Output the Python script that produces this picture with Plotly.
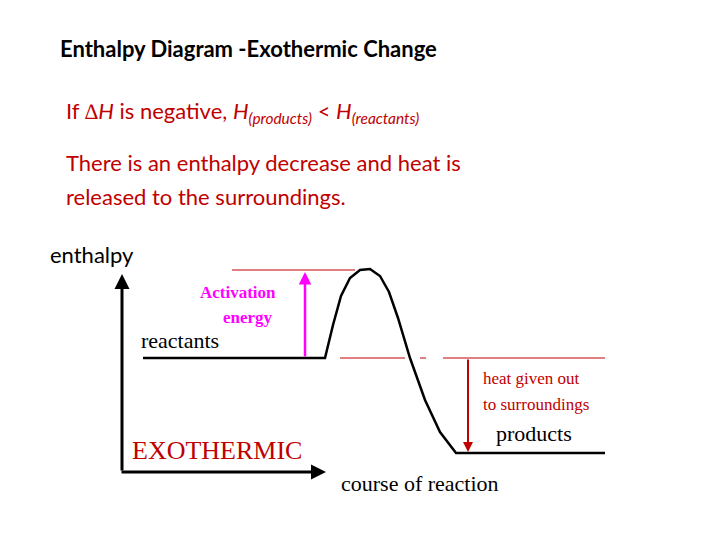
import plotly.graph_objects as go

# reaction path (slide pixel coordinates: x = course of reaction, y = enthalpy, down is lower)
path_x = [143, 325, 333, 341, 350, 360, 370, 380, 389, 398, 410, 425, 440, 456, 605]
path_y = [358, 358, 325, 296, 278, 270, 269, 276, 292, 318, 358, 400, 432, 453, 453]

reactant_level = 358
product_level = 453
peak_level = 270

RED = "#c00000"
MAGENTA = "#ff00ff"
SERIF = "Liberation Serif"
SANS = "Lato"

fig = go.Figure()

# enthalpy curve
fig.add_trace(go.Scatter(x=path_x, y=path_y, mode="lines",
                         line=dict(color="black", width=2.5), hoverinfo="skip"))

# reference lines
fig.add_trace(go.Scatter(x=[232, 355], y=[peak_level, peak_level], mode="lines",
                         line=dict(color=RED, width=1), hoverinfo="skip"))
fig.add_trace(go.Scatter(x=[340, 405, None, 420, 426, None, 443, 605],
                         y=[reactant_level] * 2 + [None] + [reactant_level] * 2 + [None] + [reactant_level] * 2,
                         mode="lines", line=dict(color=RED, width=1), hoverinfo="skip"))

def arrow(x0, y0, x1, y1, color, width):
    fig.add_annotation(x=x1, y=y1, ax=x0, ay=y0, xref="x", yref="y", axref="x", ayref="y",
                       showarrow=True, arrowhead=2, arrowsize=1, arrowwidth=width,
                       arrowcolor=color, text="")

# axes
arrow(122, 472, 122, 274, "black", 3)
arrow(120, 472, 326, 472, "black", 3)
# activation energy and heat out
arrow(305, reactant_level, 305, peak_level + 2, MAGENTA, 2.5)
arrow(468, reactant_level, 468, product_level - 1, RED, 2)

def label(x, y, text, size, color="black", family=SANS):
    fig.add_annotation(x=x, y=y, xref="x", yref="y", text=text, showarrow=False,
                       xanchor="left", yanchor="middle",
                       font=dict(size=size, color=color, family=family))

label(58, 48, "<b>Enthalpy Diagram -Exothermic Change</b>", 22)
label(64, 112, "If ∆<i>H</i> is negative, <i>H</i><sub><i>(products)</i></sub> &lt; <i>H</i><sub><i>(reactants)</i></sub>", 22, RED)
label(64, 162, "There is an enthalpy decrease and heat is", 22, RED)
label(64, 196, "released to the surroundings.", 22, RED)
label(48, 254, "enthalpy", 22)
label(198, 292, "<b>Activation</b>", 17, MAGENTA, SERIF)
label(221, 317, "<b>energy</b>", 17, MAGENTA, SERIF)
label(139, 340, "reactants", 22, "black", SERIF)
label(481, 378, "heat given out", 17, RED, SERIF)
label(481, 404, "to surroundings", 17, RED, SERIF)
label(494, 433, "products", 22, "black", SERIF)
label(130, 450, "EXOTHERMIC", 26, RED, SERIF)
label(339, 483, "course of reaction", 22, "black", SERIF)

# page body adds an 8px margin; shift the view to compensate
fig.update_layout(
    width=728, height=546, margin=dict(l=0, r=0, t=0, b=0),
    plot_bgcolor="white", paper_bgcolor="white", showlegend=False,
    xaxis=dict(range=[8, 736], visible=False, fixedrange=True),
    yaxis=dict(range=[554, 8], visible=False, fixedrange=True),
)

fig.write_html("out.html")
